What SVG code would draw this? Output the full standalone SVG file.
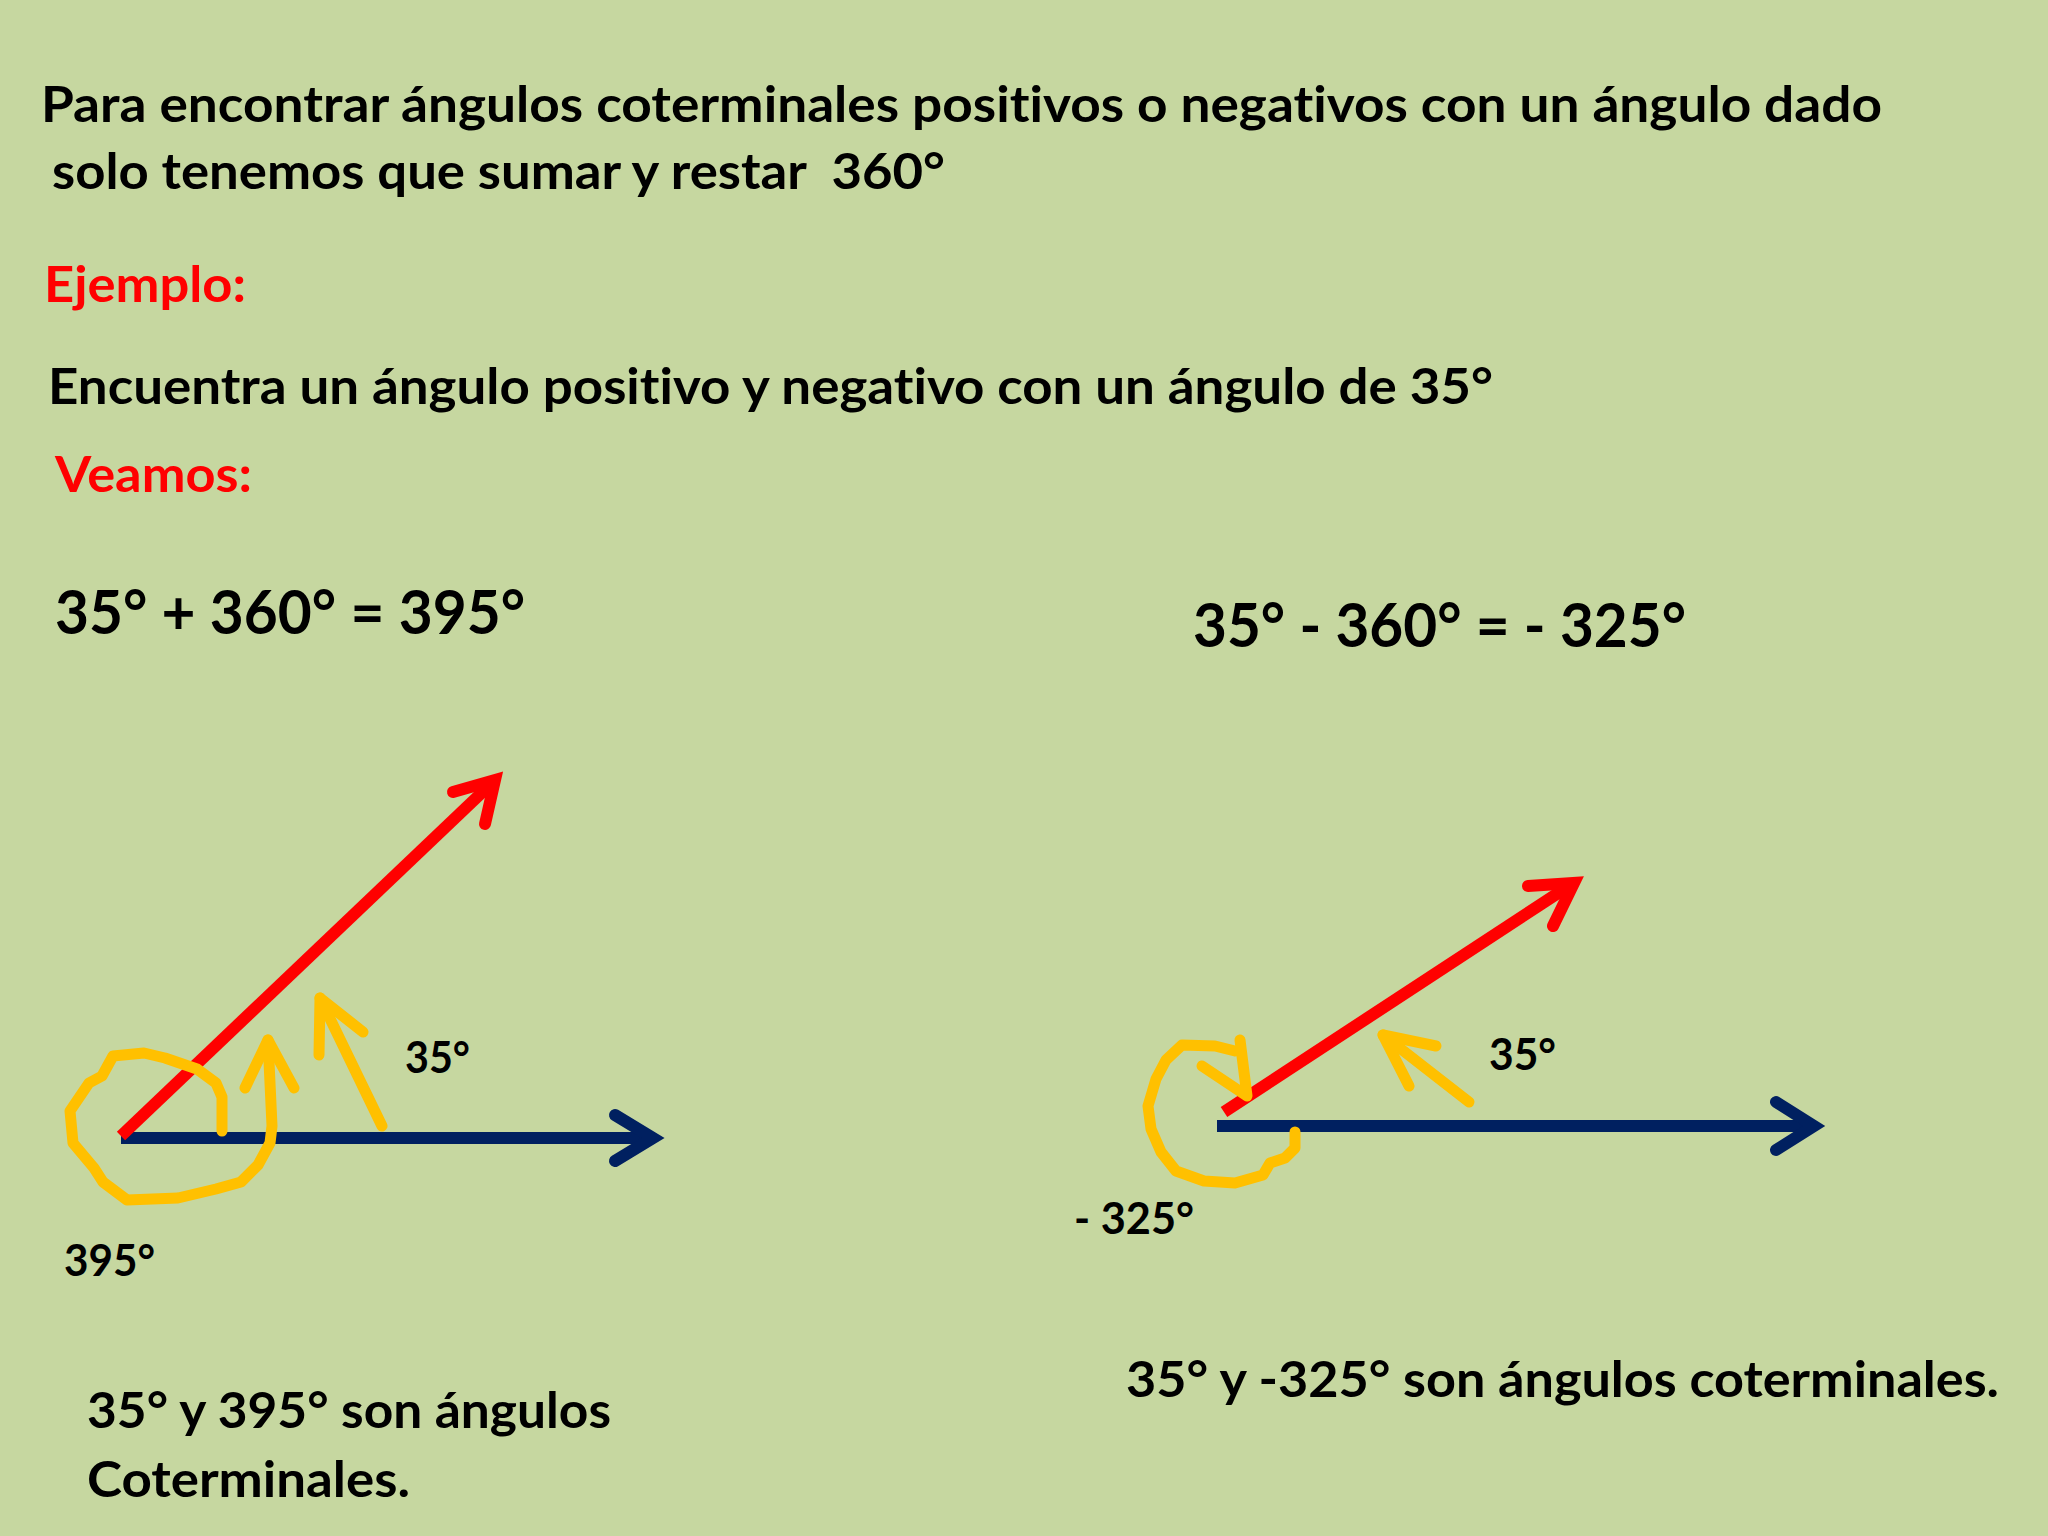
<svg xmlns="http://www.w3.org/2000/svg" width="2048" height="1536" viewBox="0 0 2048 1536">
<style>
.t{font-family:Lato,"Open Sans","Liberation Sans",sans-serif;font-weight:bold;fill:#000;font-variant-ligatures:none}
.r{fill:#ff0000}
.body{font-size:50px}
.eq{font-size:62px}
.lbl{font-size:43px}
.bot{font-size:49px}
.blue{stroke:#002060;stroke-width:12;fill:none}
.red{stroke:#ff0000;stroke-width:12;fill:none}
.yel{stroke:#ffc000;stroke-width:11;fill:none;stroke-linecap:round;stroke-linejoin:round}
.head{stroke-linecap:round;stroke-linejoin:miter;stroke-miterlimit:10}
</style>
<rect width="2048" height="1536" fill="#c6d7a0"/>
<g id="intro">
<text class="t body" x="41" y="122" textLength="1841" lengthAdjust="spacingAndGlyphs">Para encontrar ángulos coterminales positivos o negativos con un ángulo dado</text>
<text class="t body" x="52" y="189" textLength="893" lengthAdjust="spacingAndGlyphs" xml:space="preserve">solo tenemos que sumar y restar  360°</text>
<text class="t body r" x="44" y="302" textLength="202" lengthAdjust="spacingAndGlyphs">Ejemplo:</text>
<text class="t body" x="48" y="404" textLength="1445" lengthAdjust="spacingAndGlyphs">Encuentra un ángulo positivo y negativo con un ángulo de 35°</text>
<text class="t body r" x="55" y="492" textLength="197" lengthAdjust="spacingAndGlyphs">Veamos:</text>
</g>
<g id="left-diagram">
<text class="t eq" x="55" y="634" textLength="470" lengthAdjust="spacingAndGlyphs">35° + 360° = 395°</text>
<line class="blue" x1="121" y1="1138" x2="650" y2="1138"/>
<polyline class="blue head" points="615,1115 653,1138 615,1161"/>
<line class="red" x1="121" y1="1136" x2="493" y2="782"/>
<polyline class="red head" points="453,792 495,780 485,824"/>
<path class="yel" d="M222,1131 L222,1097 L216,1083 L197,1069 L165,1058 L144,1053 L113,1056 L102,1076 L89,1083 L70,1111 L73,1143 L94,1168 L103,1182 L127,1200 L178,1198 L216,1189 L241,1182 L258,1165 L270,1143 L272,1126 L268,1040"/>
<polyline class="yel" points="245,1088 268,1040 294,1088"/>
<line class="yel" x1="382" y1="1126" x2="320" y2="998"/>
<polyline class="yel" points="319,1055 320,998 363,1032"/>
<text class="t lbl" x="405" y="1073" textLength="65" lengthAdjust="spacingAndGlyphs">35°</text>
<text class="t lbl" x="64" y="1276" textLength="91" lengthAdjust="spacingAndGlyphs">395°</text>
<text class="t bot" x="87" y="1428" textLength="524" lengthAdjust="spacingAndGlyphs">35° y 395° son ángulos</text>
<text class="t bot" x="87" y="1497" textLength="323" lengthAdjust="spacingAndGlyphs">Coterminales.</text>
</g>
<g id="right-diagram">
<text class="t eq" x="1193" y="647" textLength="493" lengthAdjust="spacingAndGlyphs">35° - 360° = - 325°</text>
<line class="blue" x1="1217" y1="1126" x2="1811" y2="1126"/>
<polyline class="blue head" points="1776,1102 1814,1126 1776,1150"/>
<line class="red" x1="1224" y1="1112" x2="1572" y2="884"/>
<polyline class="red head" points="1528,886 1574,883 1553,926"/>
<path class="yel" d="M1295,1132 L1295,1148 L1285,1158 L1270,1163 L1263,1175 L1235,1183 L1204,1181 L1176,1171 L1161,1152 L1151,1129 L1148,1106 L1156,1079 L1166,1060 L1182,1045 L1215,1046 L1235,1051"/>
<polyline class="yel" points="1240,1040 1247,1096 1202,1066"/>
<line class="yel" x1="1469" y1="1102" x2="1383" y2="1035"/>
<polyline class="yel" points="1409,1086 1383,1035 1436,1046"/>
<text class="t lbl" x="1489" y="1070" textLength="67" lengthAdjust="spacingAndGlyphs">35°</text>
<text class="t lbl" x="1074" y="1234" textLength="120" lengthAdjust="spacingAndGlyphs">- 325°</text>
<text class="t bot" x="1126" y="1397" textLength="873" lengthAdjust="spacingAndGlyphs">35° y -325° son ángulos coterminales.</text>
</g>
</svg>
